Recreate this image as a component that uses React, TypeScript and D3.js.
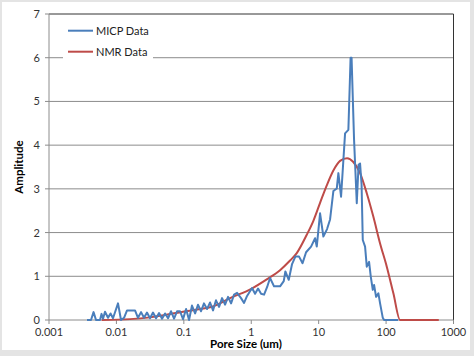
import React from "react";
import * as d3 from "d3";

const xTicks = [0.001, 0.01, 0.1, 1, 10, 100, 1000];
const xTickLabels = ["0.001", "0.01", "0.1", "1", "10", "100", "1000"];
const yTicks = [0, 1, 2, 3, 4, 5, 6, 7];

const micpSize = [
  0.00366, 0.0042, 0.00458, 0.00498, 0.00571, 0.00601, 0.00633, 0.00677, 0.00751, 0.00818,
  0.0089, 0.01056, 0.0117, 0.01297, 0.01437, 0.01888, 0.0209, 0.0232, 0.0257, 0.0284,
  0.0315, 0.0349, 0.0387, 0.0429, 0.0475, 0.0526, 0.0583, 0.0646, 0.0716, 0.0793,
  0.0878, 0.0973, 0.108, 0.1195, 0.132, 0.147, 0.162, 0.18, 0.199, 0.221,
  0.245, 0.271, 0.3, 0.333, 0.369, 0.409, 0.453, 0.502, 0.556, 0.616,
  0.706, 0.782, 0.867, 1.028, 1.139, 1.262, 1.398, 1.549, 1.716, 1.901,
  2.179, 2.675, 3.035, 3.206, 3.601, 4.03, 4.511, 5.119, 5.768, 6.504,
  7.715, 8.844, 9.37, 10.49, 11.74, 13.32, 14.76, 16.52, 18.56, 19.61,
  21.49, 24.64, 27.59, 29.74, 30.77, 33.51, 36.75, 39.08, 41.13, 43.3,
  45.11, 48.8, 51.71, 55.95, 59.29, 63.48, 66.37, 71.06, 76.89, 81.47,
  89.33, 93.4, 150.7,
];
const micpAmp = [
  0, 0, 0.18, 0, 0, 0.14, 0.03, 0.19, 0.05, 0.15,
  0.04, 0.38, 0, 0.05, 0.22, 0.22, 0.05, 0.18, 0.05, 0.17,
  0.04, 0.17, 0.04, 0.16, 0.03, 0.15, 0.04, 0.2, 0.03, 0.2,
  0.2, 0.02, 0.25, 0, 0.33, 0.15, 0.35, 0.2, 0.38, 0.25,
  0.4, 0.22, 0.45, 0.3, 0.5, 0.35, 0.53, 0.38, 0.58, 0.62,
  0.5, 0.39, 0.55, 0.73, 0.6, 0.72, 0.6, 0.58, 0.75, 0.96,
  0.77, 0.77, 0.89, 1.11, 0.92, 1.28, 1.45, 1.45, 1.3, 1.55,
  1.68, 1.87, 1.68, 2.44, 1.91, 2.08, 2.3, 2.95, 3.01, 3.36,
  2.82, 4.27, 4.35, 6.0, 6.0, 4.12, 2.67, 3.55, 3.58, 3.1,
  1.83, 1.68, 1.22, 1.33, 0.99, 0.69, 0.8, 0.53, 0.61, 0.38,
  0.05, 0, 0,
];

const nmrSize = [
  0.00605, 0.0159, 0.0315, 0.0973, 0.174, 0.271, 0.485, 1.017, 1.698, 2.675,
  3.765, 4.733, 6.66, 8.35, 10.49, 13.19, 16.52, 20.77, 26.39, 32.39,
  41.13, 51.71, 64.8, 81.47, 102.4, 128.3, 161.3, 605,
];
const nmrAmp = [
  0, 0.02, 0.06, 0.19, 0.25, 0.31, 0.5, 0.72, 0.93, 1.14,
  1.36, 1.53, 1.95, 2.27, 2.68, 3.08, 3.42, 3.64, 3.7, 3.62,
  3.36, 2.9, 2.36, 1.75, 1.22, 0.61, 0, 0,
];

const W = 474;
const H = 356;
const L = 49;
const R = 453.5;
const T = 14;
const B = 320;

const font = "Lato, 'Open Sans', Arial, sans-serif";

export default function App() {
  const x = d3.scaleLog().domain([0.001, 1000]).range([L, R]);
  const y = d3.scaleLinear().domain([0, 7]).range([B, T]);
  const line = d3
    .line<[number, number]>()
    .x((d) => x(d[0]))
    .y((d) => y(d[1]));
  const smooth = d3
    .line<[number, number]>()
    .x((d) => x(d[0]))
    .y((d) => y(d[1]))
    .curve(d3.curveMonotoneX);
  const micp = micpSize.map((s, i) => [s, micpAmp[i]] as [number, number]);
  const nmr = nmrSize.map((s, i) => [s, nmrAmp[i]] as [number, number]);

  return (
    <svg
      width={W}
      height={H}
      style={{ position: "absolute", left: 0, top: 0 }}
      fontFamily={font}
    >
      <rect x={0} y={0} width={W} height={H} fill="#e4e4e4" />
      <rect x={2} y={2} width={468} height={348} fill="#ffffff" />
      {yTicks.slice(1, 7).map((t) => (
        <line key={t} x1={L} x2={R} y1={y(t)} y2={y(t)} stroke="#8c8c8c" strokeWidth={1} />
      ))}
      {/* plot border */}
      <line x1={L} x2={R} y1={T} y2={T} stroke="#333" strokeWidth={1} />
      <line x1={R} x2={R} y1={T} y2={B} stroke="#333" strokeWidth={1} />
      {/* axes */}
      <line x1={L} x2={L} y1={T} y2={B} stroke="#8c8c8c" strokeWidth={1} />
      <line x1={L} x2={R} y1={B} y2={B} stroke="#8c8c8c" strokeWidth={1} />
      {yTicks.map((t) => (
        <g key={t}>
          <line x1={L - 4} x2={L} y1={y(t)} y2={y(t)} stroke="#8c8c8c" />
          <text x={L - 9} y={y(t) + 4} textAnchor="end" fontSize={11} fill="#333">
            {t}
          </text>
        </g>
      ))}
      {xTicks.map((t, i) => (
        <g key={t}>
          <line x1={x(t)} x2={x(t)} y1={B} y2={B + 4} stroke="#8c8c8c" />
          <text x={x(t)} y={B + 16} textAnchor="middle" fontSize={11} fill="#333">
            {xTickLabels[i]}
          </text>
        </g>
      ))}
      <path d={smooth(nmr) || ""} fill="none" stroke="#be4b48" strokeWidth={2} />
      <path d={line(micp) || ""} fill="none" stroke="#4a7ebb" strokeWidth={2} strokeLinejoin="round" />
      {/* legend */}
      <rect x={63} y={20} width={90} height={42} fill="#ffffff" />
      <line x1={68} x2={93} y1={30.7} y2={30.7} stroke="#4a7ebb" strokeWidth={2} />
      <text x={96} y={34.7} fontSize={11} fill="#222">MICP Data</text>
      <line x1={68} x2={93} y1={51.7} y2={51.7} stroke="#be4b48" strokeWidth={2} />
      <text x={96} y={55.7} fontSize={11} fill="#222">NMR Data</text>
      {/* titles */}
      <text x={246} y={348} textAnchor="middle" fontSize={11.5} fontWeight="bold" fill="#000">
        Pore Size (um)
      </text>
      <text
        transform={`translate(23,${(T + B) / 2}) rotate(-90)`}
        textAnchor="middle"
        fontSize={11.5}
        fontWeight="bold"
        fill="#000"
      >
        Amplitude
      </text>
    </svg>
  );
}
